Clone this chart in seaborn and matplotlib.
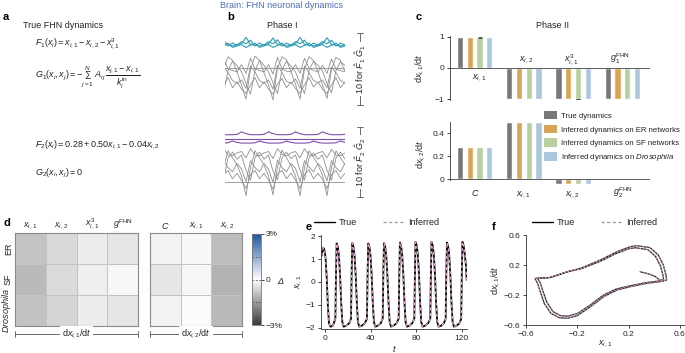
import numpy as np
import pandas as pd
import matplotlib
matplotlib.use("Agg")
import matplotlib.pyplot as plt
import seaborn as sns
from matplotlib.colors import LinearSegmentedColormap
from matplotlib.lines import Line2D
from matplotlib.patches import Patch

# ---- panel b: phase I traces (sampled on a shared grid, spikes at 21, 48, 75, 102)
b_x = [-1.5 + 4.5 * j for j in range(28)]
b_teal = [
    [8.4, 8.3, 8.2, 8.4, 8.5, 9.4, 8.4, 8.3, 8.2, 8.4, 8.5, 9.3, 8.4, 8.3, 8.2, 8.4, 8.5, 9.4, 8.4, 8.3, 8.2, 8.4, 8.5, 9.35, 8.4, 8.3, 8.2, 8.4],
    [9.0, 8.2, 8.6, 8.3, 8.8, 8.5, 9.0, 8.2, 8.6, 8.3, 8.8, 8.5, 9.05, 8.2, 8.6, 8.3, 8.8, 8.5, 9.0, 8.2, 8.6, 8.3, 8.8, 8.5, 9.0, 8.2, 8.6, 8.3],
    [8.3, 8.6, 8.0, 8.2, 8.4, 8.0, 8.3, 8.6, 8.0, 8.2, 8.4, 8.0, 8.3, 8.6, 8.0, 8.2, 8.4, 8.0, 8.3, 8.6, 8.0, 8.2, 8.4, 8.0, 8.3, 8.6, 8.0, 8.2],
]
b_gray_top = [
    [5.0, 6.7, 6.2, 4.6, 2.8, 0.8, 5.0, 6.8, 6.2, 4.5, 2.8, 0.7, 5.1, 6.7, 6.3, 4.6, 2.9, 0.8, 5.0, 6.7, 6.2, 4.6, 2.8, 0.9, 5.0, 6.6, 6.2, 4.6],
    [1.6, 4.8, 6.1, 5.5, 4.6, 3.0, 1.5, 4.8, 6.2, 5.5, 4.6, 3.1, 1.6, 4.9, 6.1, 5.4, 4.6, 3.0, 1.6, 4.8, 6.1, 5.5, 4.7, 3.0, 1.7, 4.8, 6.0, 5.5],
    [5.4, 4.5, 3.4, 3.0, 3.5, 2.3, 5.4, 4.6, 3.4, 3.0, 3.5, 2.2, 5.5, 4.5, 3.3, 3.0, 3.6, 2.3, 5.4, 4.5, 3.4, 3.1, 3.5, 2.4, 5.3, 4.5, 3.4, 3.0],
    [6.5, 5.0, 4.8, 4.6, 5.6, 4.4, 6.5, 5.0, 4.8, 4.6, 5.6, 4.3, 6.6, 5.0, 4.7, 4.6, 5.6, 4.4, 6.5, 5.1, 4.8, 4.6, 5.5, 4.4, 6.4, 5.0, 4.8, 4.6],
    [2.8, 3.8, 2.4, 3.2, 2.2, 1.6, 2.8, 3.8, 2.4, 3.2, 2.2, 1.5, 2.9, 3.7, 2.4, 3.2, 2.3, 1.6, 2.8, 3.8, 2.5, 3.2, 2.2, 1.6, 2.8, 3.8, 2.4, 3.2],
]
b_flat_top = 5.1
b_purple = [
    [8.9, 8.9, 8.9, 8.95, 9.3, 9.05, 8.9, 8.9, 8.9, 8.95, 9.3, 9.05, 8.9, 8.9, 8.9, 8.95, 9.3, 9.05, 8.9, 8.9, 8.9, 8.95, 9.3, 9.05, 8.9, 8.9, 8.9, 8.95],
    [8.3] * 28,
    [7.7, 7.75, 8.0, 7.8, 7.7, 7.7, 7.7, 7.75, 8.0, 7.8, 7.7, 7.7, 7.7, 7.75, 8.0, 7.8, 7.7, 7.7, 7.7, 7.75, 8.0, 7.8, 7.7, 7.7, 7.7, 7.75, 8.0, 7.8],
]
b_gray_bot = [
    [4.2, 6.6, 5.6, 4.6, 3.0, 0.2, 4.2, 6.6, 5.6, 4.6, 3.0, 0.3, 4.3, 6.7, 5.6, 4.5, 3.0, 0.2, 4.2, 6.6, 5.7, 4.6, 3.1, 0.2, 4.2, 6.6, 5.6, 4.6],
    [5.2, 4.2, 3.6, 4.8, 4.0, 2.2, 5.2, 4.2, 3.6, 4.8, 4.0, 2.1, 5.3, 4.2, 3.6, 4.8, 4.1, 2.2, 5.2, 4.3, 3.6, 4.8, 4.0, 2.3, 5.2, 4.2, 3.6, 4.8],
    [2.4, 5.6, 6.4, 5.4, 6.0, 3.8, 2.4, 5.6, 6.4, 5.4, 6.0, 3.7, 2.5, 5.6, 6.4, 5.5, 6.0, 3.8, 2.4, 5.6, 6.3, 5.4, 6.0, 3.8, 2.4, 5.6, 6.4, 5.4],
    [3.2, 3.8, 2.6, 3.4, 2.4, 1.2, 3.2, 3.8, 2.6, 3.4, 2.4, 1.1, 3.3, 3.8, 2.6, 3.4, 2.4, 1.2, 3.2, 3.9, 2.6, 3.4, 2.5, 1.2, 3.2, 3.8, 2.6, 3.4],
    [6.9, 6.0, 5.9, 6.3, 6.5, 5.6, 6.9, 6.0, 5.9, 6.3, 6.5, 5.5, 6.9, 6.1, 5.9, 6.3, 6.5, 5.6, 6.9, 6.0, 5.9, 6.3, 6.5, 5.6, 6.8, 6.0, 5.9, 6.3],
]
b_flat_bot = 2.1

# ---- panel c: phase II coefficients
c_sources = ['True dynamics', 'Inferred dynamics on ER networks',
             'Inferred dynamics on SF networks', r'Inferred dynamics on $\mathit{Drosophila}$']
c_colors = ['#787878', '#d8a558', '#b8cf9e', '#a9c8de']
c1_terms = ['x1', 'x2', 'x1^3', 'g1']
c1_true = [1.0, -1.0, -1.0, -1.0]
c1_er = [0.991, -0.994, -0.997, -0.996]
c1_sf = [0.99, -0.994, -0.998, -0.999]
c1_dro = [0.991, -0.994, -0.997, -0.996]
c2_terms = ['C', 'x1', 'x2', 'g2']
c2_true = [0.28, 0.50, -0.04, 0.0]
c2_er = [0.2799, 0.4999, -0.0396, 0.0]
c2_sf = [0.2798, 0.4999, -0.0395, 0.0]
c2_dro = [0.2799, 0.4999, -0.0396, 0.0]

# ---- panel d: relative error (%)
d_rows = ['ER', 'SF', r'$\mathit{Drosophila}$']
d1_cols = [r'$x_{i,1}$', r'$x_{i,2}$', r'$x_{i,1}^3$', r'$g^{\rm FHN}$']
d2_cols = [r'$C$', r'$x_{i,1}$', r'$x_{i,2}$']
d1_vals = [[-0.90, -0.58, -0.30, -0.39],
           [-1.04, -0.55, -0.25, -0.11],
           [-0.93, -0.64, -0.30, -0.39]]
d2_vals = [[-0.20, -0.11, -0.99],
           [-0.36, -0.14, -1.16],
           [-0.17, -0.06, -1.05]]

# ---- panel e: x_i,1 time series
e_t = [-2.9, -1.5, -0.5, 0.5, 1.5, 2.5, 3.5, 4.7, 7.0,
       9.1, 9.6, 10.2, 11.2, 12.2, 13.2, 14.2, 15.2, 16.4, 18.7, 21.2,
       22.8, 23.3, 23.9, 24.9, 25.9, 26.9, 27.9, 28.9, 30.1, 32.4, 34.9,
       36.8, 37.3, 37.9, 38.9, 39.9, 40.9, 41.9, 42.9, 44.1, 46.4, 48.9,
       50.6, 51.1, 51.7, 52.7, 53.7, 54.7, 55.7, 56.7, 57.9, 60.2, 62.7,
       64.6, 65.1, 65.7, 66.7, 67.7, 68.7, 69.7, 70.7, 71.9, 74.2, 76.4,
       78.3, 78.8, 79.4, 80.4, 81.4, 82.4, 83.4, 84.4, 85.6, 87.9, 90.4,
       92.3, 92.8, 93.4, 94.4, 95.4, 96.4, 97.4, 98.4, 99.6, 101.9, 104.2,
       105.8, 106.3, 106.9, 107.9, 108.9, 109.9, 110.9, 111.9, 113.1, 115.4, 117.9,
       119.4, 119.9, 120.5, 121.5, 122.5, 123.5, 124.2]
e_true = [1.15, 1.5, 1.4, 1.05, 0.2, -1.0, -1.8, -1.95, -1.9,
          -1.6, 0.2, 1.68, 1.55, 1.15, 0.3, -0.9, -1.75, -1.95, -1.9, -1.8,
          -1.6, 0.2, 1.7, 1.55, 1.15, 0.3, -0.9, -1.75, -1.95, -1.9, -1.8,
          -1.6, 0.2, 1.68, 1.55, 1.15, 0.3, -0.9, -1.75, -1.95, -1.9, -1.8,
          -1.6, 0.2, 1.7, 1.56, 1.15, 0.3, -0.9, -1.75, -1.95, -1.9, -1.8,
          -1.6, 0.2, 1.72, 1.57, 1.17, 0.3, -0.9, -1.75, -1.95, -1.9, -1.8,
          -1.6, 0.2, 1.75, 1.6, 1.2, 0.35, -0.9, -1.75, -1.95, -1.9, -1.8,
          -1.6, 0.2, 1.75, 1.6, 1.2, 0.35, -0.9, -1.75, -1.95, -1.9, -1.8,
          -1.6, 0.2, 1.72, 1.58, 1.18, 0.3, -0.9, -1.75, -1.95, -1.9, -1.8,
          -1.6, 0.2, 1.75, 1.6, 1.25, 0.75, 0.1]
e_inferred = list(e_true)  # indistinguishable from the true trace

# ---- panel f: phase portrait (outer and inner loop + transient)
f_x_outer = [-0.528, -0.419, -0.277, -0.174, -0.019, 0.110, 0.213, 0.265, 0.368, 0.432, 0.471, 0.492, 0.497,
             0.445, 0.342, 0.213, 0.110, 0.006, -0.097, -0.200, -0.277, -0.342, -0.406, -0.458, -0.489, -0.510, -0.528]
f_y_outer = [0.022, 0.031, 0.111, 0.156, 0.267, 0.378, 0.444, 0.458, 0.431, 0.333, 0.200, 0.067, 0.000,
             -0.022, -0.044, -0.089, -0.133, -0.222, -0.356, -0.476, -0.511, -0.502, -0.444, -0.311, -0.156, -0.044, 0.013]
f_x_inner = [-0.505, -0.405, -0.270, -0.170, -0.020, 0.105, 0.205, 0.255, 0.350, 0.410, 0.448, 0.468, 0.473,
             0.430, 0.335, 0.205, 0.103, 0.000, -0.100, -0.200, -0.272, -0.332, -0.390, -0.438, -0.468, -0.488, -0.505]
f_y_inner = [0.022, 0.035, 0.112, 0.150, 0.250, 0.355, 0.418, 0.430, 0.405, 0.315, 0.190, 0.065, 0.005,
             -0.015, -0.035, -0.080, -0.120, -0.205, -0.335, -0.448, -0.482, -0.475, -0.420, -0.295, -0.150, -0.040, 0.010]
f_x_start = [0.29, 0.36, 0.41, 0.44, 0.47]
f_y_start = [0.11, 0.08, 0.045, 0.0, -0.01]

# ---------------------------------------------------------------- style
sns.set_style("ticks")
plt.rcParams['font.family'] = ['Liberation Sans', 'DejaVu Sans']
plt.rcParams['mathtext.fontset'] = 'custom'
plt.rcParams['mathtext.rm'] = 'Liberation Sans'
plt.rcParams['mathtext.it'] = 'Liberation Sans:italic'
plt.rcParams['mathtext.bf'] = 'Liberation Sans:bold'
plt.rcParams['font.size'] = 6
plt.rcParams['axes.linewidth'] = 0.6
plt.rcParams['xtick.major.width'] = 0.6
plt.rcParams['ytick.major.width'] = 0.6
plt.rcParams['xtick.major.size'] = 2.5
plt.rcParams['ytick.major.size'] = 2.5
plt.rcParams['xtick.major.pad'] = 1.5
plt.rcParams['ytick.major.pad'] = 1.5
plt.rcParams['axes.edgecolor'] = '#333333'
plt.rcParams['text.color'] = '#222222'

W, H = 685, 353
fig = plt.figure(figsize=(W / 100, H / 100), dpi=100)


def box(x0, y0, x1, y1):
    return fig.add_axes([x0 / W, 1 - y1 / H, (x1 - x0) / W, (y1 - y0) / H])


def ftext(x, y, s, **kw):
    kw.setdefault('ha', 'left')
    kw.setdefault('va', 'center')
    return fig.text(x / W, 1 - y / H, s, **kw)


def fline(xs, ys, **kw):
    fig.add_artist(Line2D([x / W for x in xs], [1 - y / H for y in ys],
                          transform=fig.transFigure, **kw))


# panel letters
for lab, x, y in [('a', 3, 17), ('b', 227, 17), ('c', 416, 17), ('d', 3, 223), ('e', 306, 227), ('f', 492, 227)]:
    ftext(x, y, lab, fontsize=8, fontweight='bold', color='black')

# ---------------------------------------------------------------- a
ftext(23, 25, 'True FHN dynamics', fontsize=6.5)
ftext(35, 44, r'$F_1(x_i) = x_{i,1} - x_{i,2} - x_{i,1}^3$', fontsize=6.5)
ftext(35, 78, r'$G_1(x_i,x_j) = -\sum_{j=1}^{N}\ A_{ij}\,\dfrac{x_{j,1} - x_{i,1}}{k_i^{\rm in}}$', fontsize=6.5)
ftext(35, 145, r'$F_2(x_i) = 0.28 + 0.50x_{i,1} - 0.04x_{i,2}$', fontsize=6.5)
ftext(35, 173, r'$G_2(x_i,x_j) = 0$', fontsize=6.5)

# ---------------------------------------------------------------- b
ftext(282, 5, 'Brain: FHN neuronal dynamics', ha='center', fontsize=6.5, color='#4a6db5')
ftext(282, 25, 'Phase I', ha='center', fontsize=6.5)

ax_b1 = box(225, 33, 345, 105)
for tr in b_gray_top:
    sns.lineplot(x=b_x, y=tr, ax=ax_b1, color='#8f8f8f', lw=0.6, estimator=None, sort=False)
ax_b1.plot([-1.5, 120], [b_flat_top, b_flat_top], color='#8f8f8f', lw=0.6)
for tr in b_teal:
    sns.lineplot(x=b_x, y=tr, ax=ax_b1, color='#2f9cb5', lw=0.8, estimator=None, sort=False)
ax_b1.set_xlim(0, 120)
ax_b1.set_ylim(0, 10)
ax_b1.axis('off')

ax_b2 = box(225, 127, 345, 197)
for tr in b_gray_bot:
    sns.lineplot(x=b_x, y=tr, ax=ax_b2, color='#8f8f8f', lw=0.6, estimator=None, sort=False)
ax_b2.plot([-1.5, 120], [b_flat_bot, b_flat_bot], color='#8f8f8f', lw=0.6)
for tr in b_purple:
    sns.lineplot(x=b_x, y=tr, ax=ax_b2, color='#7b52aa', lw=0.8, estimator=None, sort=False)
ax_b2.set_xlim(0, 120)
ax_b2.set_ylim(0, 10)
ax_b2.axis('off')

for y0, y1, lab in [(33, 105, r'10 for $\hat{F}_1$ $\hat{G}_1$'), (127, 197, r'10 for $\hat{F}_2$ $\hat{G}_2$')]:
    fline([360, 360], [y0, y1], color='#555555', lw=0.6)
    fline([357, 363], [y0, y0], color='#555555', lw=0.6)
    fline([357, 363], [y1, y1], color='#555555', lw=0.6)
    ftext(361, (y0 + y1) / 2, lab, ha='center', rotation=90, fontsize=6.5,
          bbox=dict(facecolor='white', edgecolor='none', pad=1.5))

# ---------------------------------------------------------------- c
ftext(552, 25, 'Phase II', ha='center', fontsize=6.5)


def coef_frame(terms, vals):
    rows = []
    for src, col in zip(c_sources, vals):
        for term, v in zip(terms, col):
            rows.append({'term': term, 'source': src, 'value': v})
    return pd.DataFrame(rows)


df_c1 = coef_frame(c1_terms, [c1_true, c1_er, c1_sf, c1_dro])
df_c2 = coef_frame(c2_terms, [c2_true, c2_er, c2_sf, c2_dro])

ax_c1 = box(450, 36, 650, 100)
sns.barplot(data=df_c1, x='term', y='value', hue='source', hue_order=c_sources, order=c1_terms,
            palette=c_colors, width=0.79, gap=0.35, saturation=1, errorbar=None, legend=False, ax=ax_c1)
ax_c1.errorbar([0.099, 2.099], [0.99, -0.998], yerr=0.012, fmt='none', ecolor='#444444',
               elinewidth=0.6, capsize=1.2, capthick=0.6)
ax_c1.axhline(0, color='#444444', lw=0.6)
ax_c1.set_xlim(-0.5, 3.56)
ax_c1.set_ylim(-1.03, 1.03)
ax_c1.set_yticks([-1, 0, 1])
ax_c1.set_yticklabels(['\u22121', '0', '1'])
ax_c1.set_xticks([])
ax_c1.set_xlabel('')
ax_c1.set_ylabel(r'd$x_{i,1}$/d$t$', fontsize=6.5, labelpad=6)
sns.despine(ax=ax_c1, bottom=True)
ax_c1.text(0.1, -0.3, r'$x_{i,1}$', ha='center', va='center', fontsize=6.5)
ax_c1.text(1.05, 0.27, r'$x_{i,2}$', ha='center', va='center', fontsize=6.5)
ax_c1.text(1.95, 0.27, r'$x_{i,1}^3$', ha='center', va='center', fontsize=6.5)
ax_c1.text(2.95, 0.3, r'$g_1^{\rm FHN}$', ha='center', va='center', fontsize=6.5)

ax_c2 = box(450, 121.5, 650, 186)
sns.barplot(data=df_c2, x='term', y='value', hue='source', hue_order=c_sources, order=c2_terms,
            palette=c_colors, width=0.79, gap=0.35, saturation=1, errorbar=None, legend=False, ax=ax_c2)
ax_c2.axhline(0, color='#444444', lw=0.6)
ax_c2.set_xlim(-0.5, 3.56)
ax_c2.set_ylim(-0.06, 0.5)
ax_c2.set_yticks([0, 0.2, 0.4])
ax_c2.set_yticklabels(['0', '0.2', '0.4'])
ax_c2.set_xticks([])
ax_c2.set_xlabel('')
ax_c2.set_ylabel(r'd$x_{i,2}$/d$t$', fontsize=6.5, labelpad=4)
sns.despine(ax=ax_c2, bottom=True)
ax_c2.spines['left'].set_bounds(-0.01, 0.5)
for xpx, lab in zip([475, 523, 572, 623], [r'$C$', r'$x_{i,1}$', r'$x_{i,2}$', r'$g_2^{\rm FHN}$']):
    ftext(xpx, 196, lab, ha='center', va='baseline', fontsize=6.5)

handles = [Patch(facecolor=c, edgecolor='none') for c in c_colors]
fig.legend(handles, c_sources, loc='upper left', bbox_to_anchor=(544 / W, 1 - 111 / H),
           frameon=False, fontsize=5.6, handlelength=1.7, handleheight=1.3,
           labelspacing=0.62, handletextpad=0.45, borderaxespad=0, borderpad=0)

# ---------------------------------------------------------------- d
cmap = LinearSegmentedColormap.from_list('gw_b', ['#3a3a3a', '#ffffff', '#1f57a0'])
df_d1 = pd.DataFrame(d1_vals, index=d_rows, columns=d1_cols)
df_d2 = pd.DataFrame(d2_vals, index=d_rows, columns=d2_cols)

ax_d1 = box(15, 233, 138, 326)
ax_d2 = box(150, 233, 242, 326)
for ax, df in [(ax_d1, df_d1), (ax_d2, df_d2)]:
    sns.heatmap(df, ax=ax, cmap=cmap, vmin=-3, vmax=3, cbar=False,
                linewidths=0.5, linecolor='#c4c4c4')
    ax.xaxis.tick_top()
    ax.set_xticklabels(df.columns, rotation=0, fontsize=6.5)
    ax.tick_params(axis='both', length=0, pad=1.5)
    for sp in ax.spines.values():
        sp.set_visible(True)
        sp.set_color('#8a8a8a')
        sp.set_linewidth(0.8)
ax_d1.set_yticklabels(d_rows, rotation=90, va='center', fontsize=6.5)
ax_d2.set_yticks([])

cax = box(252, 234, 261, 325)
cb = fig.colorbar(ax_d1.collections[0], cax=cax, ticks=[-3, 0, 3])
cb.set_ticklabels(['\u22123%', '0', '3%'])
cb.outline.set_edgecolor('#777777')
cb.outline.set_linewidth(0.6)
cax.tick_params(labelsize=6, length=2, pad=1.5)
for lev in [-1.5, 0, 1.5]:
    cax.axhline(lev, color='#555555', lw=0.6, ls=(0, (2, 2)))
ftext(277, 281, '\u0394', fontsize=6.5, style='italic')

for x0, x1, lab in [(15, 138, r'd$x_{i,1}$/d$t$'), (150, 242, r'd$x_{i,2}$/d$t$')]:
    fline([x0, x1], [334, 334], color='#555555', lw=0.6)
    fline([x0, x0], [331, 337], color='#555555', lw=0.6)
    fline([x1, x1], [331, 337], color='#555555', lw=0.6)
    ftext((x0 + x1) / 2, 334, lab, ha='center', fontsize=6.5,
          bbox=dict(facecolor='white', edgecolor='none', pad=1.5))

# ---------------------------------------------------------------- e
pink = '#e3a5cf'
ax_e = box(321, 235, 467, 329)
sns.lineplot(x=e_t, y=e_true, ax=ax_e, color='black', lw=1.3, estimator=None, sort=False)
sns.lineplot(x=e_t, y=e_inferred, ax=ax_e, color=pink, lw=0.9, linestyle=(0, (2.5, 2)),
             estimator=None, sort=False)
ax_e.set_xlim(-3.5, 124.5)
ax_e.set_ylim(-2.05, 2.05)
ax_e.set_xticks([0, 40, 80, 120])
ax_e.set_yticks([-2, -1, 0, 1, 2])
ax_e.set_yticklabels(['\u22122', '\u22121', '0', '1', '2'])
ax_e.set_xlabel(r'$t$', fontsize=6.5, labelpad=1)
ax_e.set_ylabel(r'$x_{i,1}$', fontsize=6.5, labelpad=1)
sns.despine(ax=ax_e)
leg_handles = [Line2D([], [], color='black', lw=1.0),
               Line2D([], [], color='#9a9a9a', lw=0.9, ls=(0, (2.5, 2)))]
ax_e.legend(leg_handles, ['True', 'Inferred'], loc='center', bbox_to_anchor=(0.38, 1.13),
            ncol=2, frameon=False, fontsize=6.5, handlelength=2.3, columnspacing=2.8,
            handletextpad=0.5, borderaxespad=0)

# ---------------------------------------------------------------- f
ax_f = box(526, 235, 685, 325)
for xs, ys in [(f_x_outer, f_y_outer), (f_x_inner, f_y_inner), (f_x_start, f_y_start)]:
    sns.lineplot(x=xs, y=ys, ax=ax_f, color='#222222', lw=0.9, estimator=None, sort=False)
for xs, ys in [(f_x_outer, f_y_outer), (f_x_inner, f_y_inner), (f_x_start, f_y_start)]:
    sns.lineplot(x=xs, y=ys, ax=ax_f, color=pink, lw=0.6, linestyle=(0, (2, 2)),
                 estimator=None, sort=False)
ax_f.set_xlim(-0.6, 0.64)
ax_f.set_ylim(-0.6, 0.6)
ax_f.set_xticks([-0.6, -0.2, 0.2, 0.6])
ax_f.set_xticklabels(['\u22120.6', '\u22120.2', '0.2', '0.6'])
ax_f.set_yticks([-0.6, -0.2, 0.2, 0.6])
ax_f.set_yticklabels(['\u22120.6', '\u22120.2', '0.2', '0.6'])
ax_f.set_xlabel(r'$x_{i,1}$', fontsize=6.5, labelpad=1)
ax_f.set_ylabel(r'd$x_{i,1}$/d$t$', fontsize=6.5, labelpad=1)
sns.despine(ax=ax_f)
ax_f.legend(leg_handles, ['True', 'Inferred'], loc='center', bbox_to_anchor=(0.43, 1.135),
            ncol=2, frameon=False, fontsize=6.5, handlelength=2.3, columnspacing=2.8,
            handletextpad=0.5, borderaxespad=0)

fig.savefig('out.png', dpi=100)
